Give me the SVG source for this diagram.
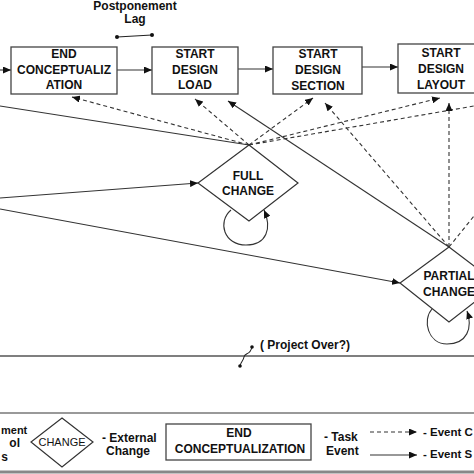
<svg xmlns="http://www.w3.org/2000/svg" width="474" height="474" viewBox="0 0 474 474">
<style>
text{font-family:"Liberation Sans",Arial,sans-serif;font-weight:bold;font-size:12px;fill:#111}
.c{text-anchor:middle}
.box{fill:#fff;stroke:#444;stroke-width:1.3}
.dia{fill:#fff;stroke:#333;stroke-width:1.2}
.s{fill:none;stroke:#333;stroke-width:1.1}
.d{fill:none;stroke:#333;stroke-width:1.1;stroke-dasharray:4 3}
.a{marker-end:url(#ah)}
</style>
<defs>
<marker id="ah" markerUnits="userSpaceOnUse" markerWidth="9" markerHeight="7" refX="8" refY="3.5" orient="auto">
<path d="M0,0 L8,3.5 L0,7 z" fill="#111"/>
</marker>
</defs>
<rect width="474" height="474" fill="#fff"/>

<g id="connectors">
<path class="s a" d="M0,70 L11,70"/>
<path class="s a" d="M117,70 L152,70"/>
<path class="s a" d="M238,69 L273,69"/>
<path class="s a" d="M362,67 L398,67"/>
<path class="s a" d="M0,198 L198,183"/>
<path class="s a" d="M0,209 L400,283"/>
<path class="s" d="M0,106 L249,145"/>
<path class="s a" d="M449,247 L228,101"/>
<path class="d a" d="M249,145 L72,97"/>
<path class="d a" d="M249,145 L195,99"/>
<path class="d a" d="M249,145 L313,98"/>
<path class="d a" d="M249,145 L440,98"/>
<path class="d" d="M249,145 L474,106"/>
<path class="d a" d="M449,247 L325,103"/>
<path class="d a" d="M449,247 L449,103"/>
<path class="d" d="M449,247 L474,216"/>
<path class="s a" d="M231,210 C217,222 224,245 246,245 C267,245 272,228 264,210"/>
<path class="s a" d="M432,309 C422,320 428,344 447,344 C467,344 473,328 467,311"/>
</g>

<g id="postponement">
<text class="c" x="135" y="10">Postponement</text>
<text class="c" x="135" y="23">Lag</text>
<line x1="117" y1="37" x2="152" y2="35" stroke="#222" stroke-width="1.1"/>
<circle cx="117" cy="37" r="2" fill="#111"/>
<circle cx="152" cy="35" r="2" fill="#111"/>
</g>

<g id="end-conceptualization">
<rect class="box" x="11" y="47" width="106" height="47"/>
<text class="c" x="64" y="58">END</text>
<text class="c" x="64" y="74">CONCEPTUALIZ</text>
<text class="c" x="64" y="89">ATION</text>
</g>
<g id="start-design-load">
<rect class="box" x="152" y="47" width="86" height="47"/>
<text class="c" x="195" y="58">START</text>
<text class="c" x="195" y="74">DESIGN</text>
<text class="c" x="195" y="89">LOAD</text>
</g>
<g id="start-design-section">
<rect class="box" x="273" y="47" width="89" height="47"/>
<text class="c" x="318" y="58">START</text>
<text class="c" x="318" y="74">DESIGN</text>
<text class="c" x="318" y="90">SECTION</text>
</g>
<g id="start-design-layout">
<rect class="box" x="398" y="44" width="88" height="49"/>
<text class="c" x="441" y="57">START</text>
<text class="c" x="441" y="73">DESIGN</text>
<text class="c" x="441" y="89">LAYOUT</text>
</g>
<g id="full-change">
<polygon class="dia" points="249,145 298,183 249,221 198,183"/>
<text class="c" x="248" y="180">FULL</text>
<text class="c" x="248" y="195">CHANGE</text>
</g>
<g id="partial-change">
<polygon class="dia" points="449,247 498,284 449,322 400,283"/>
<text class="c" x="449" y="280">PARTIAL</text>
<text class="c" x="449" y="296">CHANGE</text>
</g>

<g id="project-over">
<line x1="0" y1="356" x2="474" y2="356" stroke="#555" stroke-width="1.6"/>
<path d="M252,347 C250,356 245,352 244,357 C243,362 241,361 240,366" fill="none" stroke="#222" stroke-width="1.1"/>
<circle cx="252" cy="347" r="1.8" fill="#111"/>
<circle cx="240" cy="366" r="1.8" fill="#111"/>
<text x="260" y="349">( Project Over?)</text>
</g>

<g id="legend">
<line x1="0" y1="413" x2="474" y2="413" stroke="#777" stroke-width="1.5"/>
<line x1="0" y1="472" x2="474" y2="472" stroke="#888" stroke-width="3"/>
<text x="1" y="434" style="font-size:11px">ment</text>
<text x="20" y="447" text-anchor="end">ol</text>
<text x="8" y="461" text-anchor="end">s</text>
<polygon class="dia" points="62,418 93,442 62,467 31,442"/>
<text class="c" x="62" y="446" style="font-weight:normal;font-size:11px">CHANGE</text>
<text x="102" y="442">- External</text>
<text x="106" y="455">Change</text>
<rect class="box" x="166" y="424" width="145" height="36"/>
<text class="c" x="239" y="437">END</text>
<text class="c" x="240" y="453">CONCEPTUALIZATION</text>
<text x="324" y="441">- Task</text>
<text x="326" y="455">Event</text>
<path class="d a" d="M370,432 L417,432"/>
<text x="423" y="436" style="font-size:11.5px">- Event C</text>
<path class="s a" d="M370,455 L417,455"/>
<text x="423" y="458" style="font-size:11.5px">- Event S</text>
</g>
</svg>
